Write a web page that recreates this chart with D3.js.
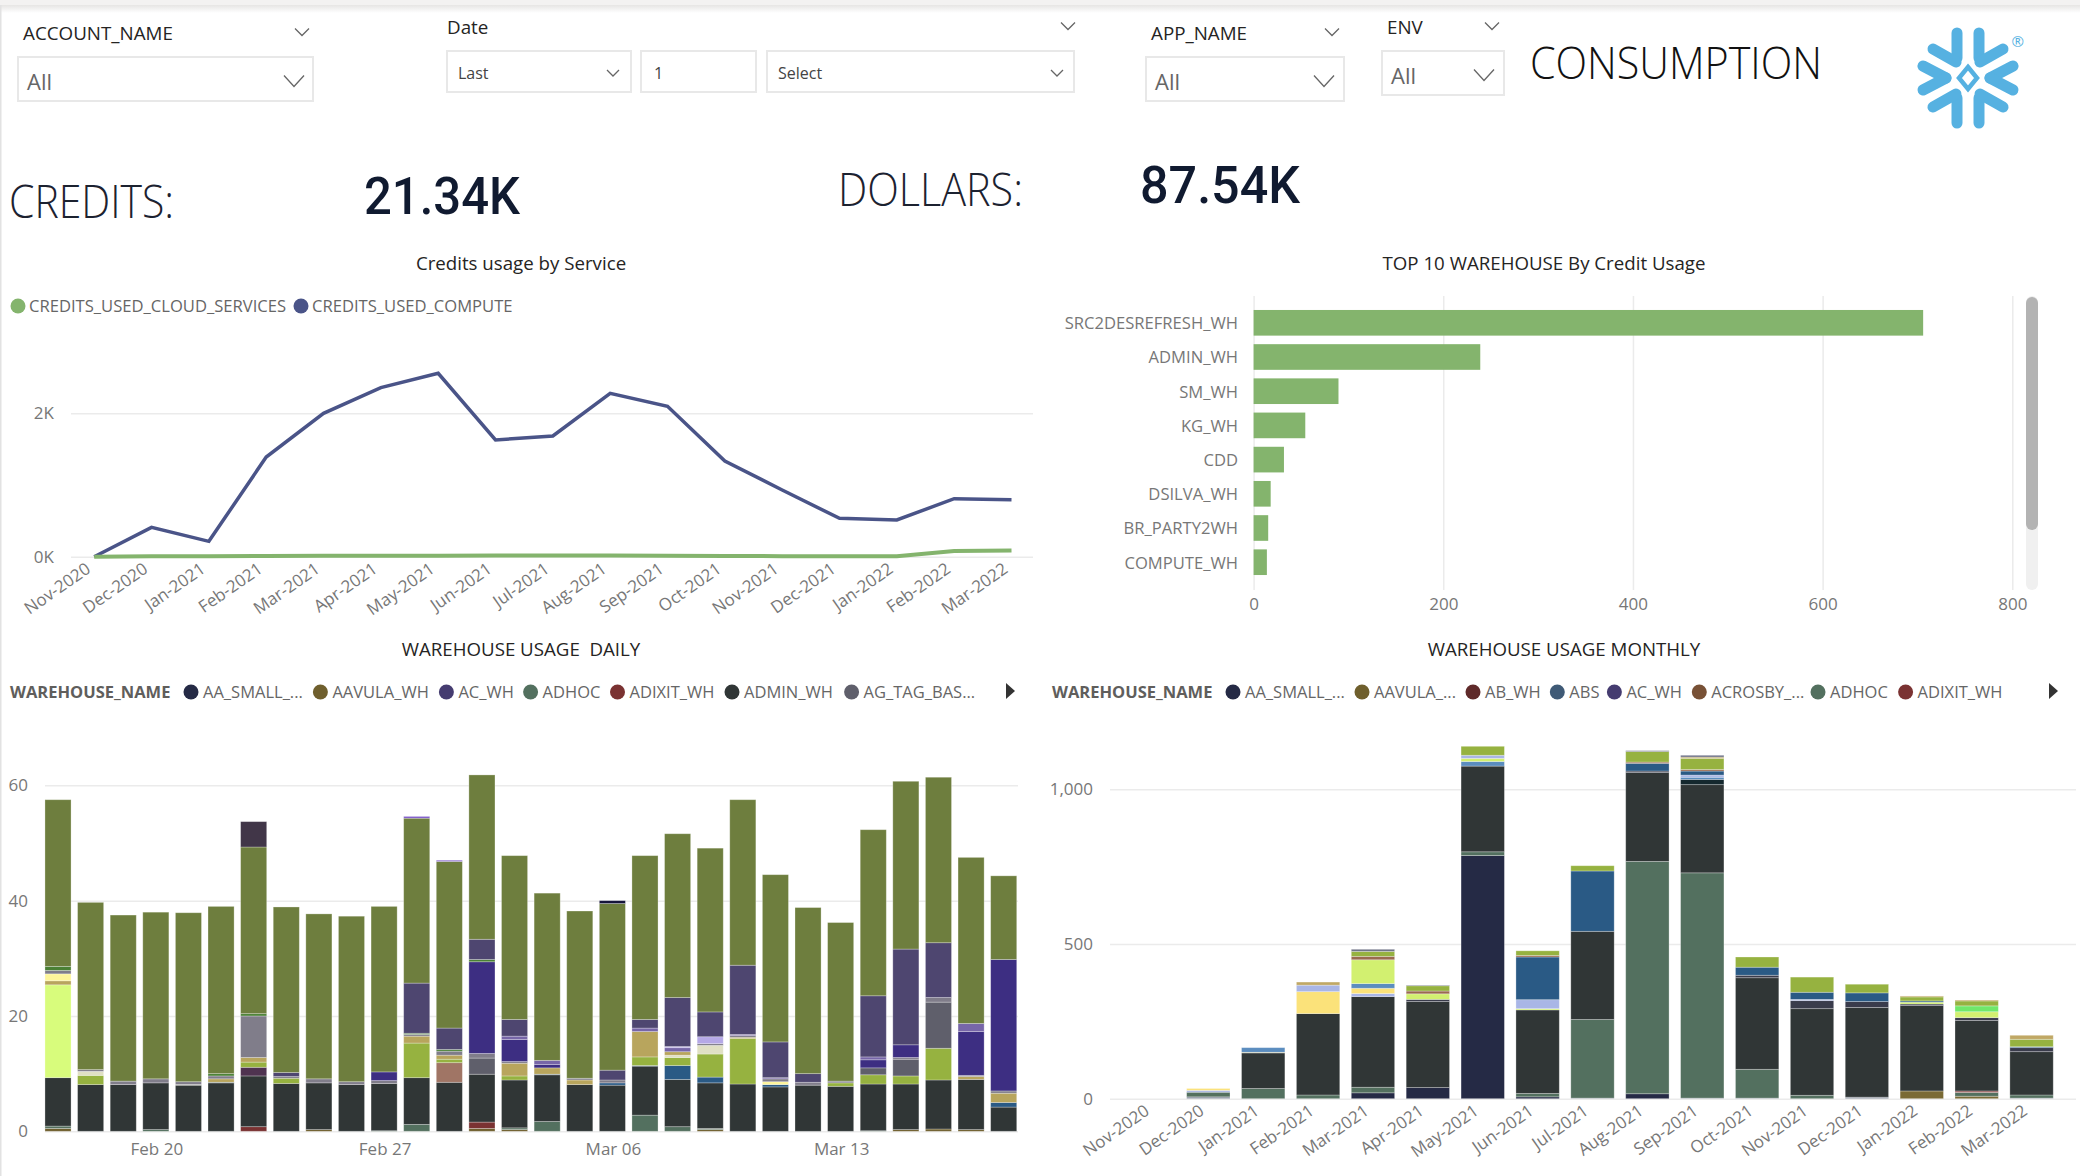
<!DOCTYPE html>
<html>
<head>
<meta charset="utf-8">
<title>Consumption</title>
<script src="https://cdn.jsdelivr.net/npm/d3@7"></script>
<style>
  body { margin: 0; background: #fff; font-family: "Open Sans", sans-serif; }
  svg { display: block; }
  .tick text { fill: #777; }
</style>
</head>
<body>
<svg id="page" width="2080" height="1176"></svg>
<script>
// monthly axis, shared by the line chart and the monthly stacked bars
var months = ["Nov-2020","Dec-2020","Jan-2021","Feb-2021","Mar-2021","Apr-2021","May-2021","Jun-2021",
  "Jul-2021","Aug-2021","Sep-2021","Oct-2021","Nov-2021","Dec-2021","Jan-2022","Feb-2022","Mar-2022"];

// credits usage by service
var creditsCompute = [0,409,214,1390,2000,2358,2558,1628,1684,2279,2098,1335,930,535,512,809,795];
var creditsCloud   = [0,6,8,10,12,12,12,16,16,16,14,10,8,8,8,78,88];

// top warehouses
var topNames  = ["SRC2DESREFRESH_WH","ADMIN_WH","SM_WH","KG_WH","CDD","DSILVA_WH","BR_PARTY2WH","COMPUTE_WH"];
var topValues = [706,239,89.5,54.5,32,18,15.4,14];
var topTicks  = [0,200,400,600,800];

// daily usage, Feb 17 to Mar 18
var days = ["02-17","02-18","02-19","02-20","02-21","02-22","02-23","02-24","02-25","02-26",
  "02-27","02-28","03-01","03-02","03-03","03-04","03-05","03-06","03-07","03-08",
  "03-09","03-10","03-11","03-12","03-13","03-14","03-15","03-16","03-17","03-18"];
var dayTicks = ["02-20","02-27","03-06","03-13"];
var dayTickLabels = ["Feb 20","Feb 27","Mar 06","Mar 13"];

var dBrown  = [.5,0,0,0,0,0,0,0,.3,0,0,0,0,.5,.3,0,0,0,0,0,.3,0,0,0,0,0,.3,.4,.3,0];
var dAdhoc  = [.4,0,0,.3,0,0,0,0,0,0,.1,1.2,0,0,.3,1.7,0,0,2.8,.8,.2,0,0,0,0,.1,0,0,0,0];
var dAdixit = [0,0,0,0,0,0,.8,0,0,0,0,0,0,1.1,0,0,0,0,0,0,0,0,0,0,0,0,0,0,0,0];
var dAdmin  = [8.4,8.1,8.1,8.1,8,8.4,8.8,8.3,8.1,8.1,8.2,8.1,8.5,8.3,8.3,8.1,8.1,8,8.5,8.2,7.9,8.2,7.7,8,7.8,8.1,7.9,8.5,8.7,4.2];
var dMaroon = [0,0,0,0,0,0,1.5,0,0,0,0,0,0,0,0,0,0,0,0,0,0,0,0,0,0,0,0,0,0,0];
var dSalmon = [0,0,0,0,0,0,0,0,0,0,0,0,3.4,0,0,0,0,0,0,0,0,0,0,0,0,0,0,0,0,0];
var dBlue   = [0,0,0,0,0,.1,0,0,0,0,0,0,0,0,0,.1,0,.4,.1,2.4,1,0,.4,0,0,0,0,0,0,.8];
var dLime   = [0,1.6,0,0,0,0,.9,.9,0,0,0,6,.6,0,.7,0,0,0,1.5,1.4,4,7.9,0,0,.6,1.6,1.4,5.5,0,0];
var dPale   = [16.1,0,0,0,0,0,0,0,0,0,0,0,0,0,0,0,0,0,0,0,0,0,0,0,0,0,0,0,0,0];
var dCream  = [0,.7,0,0,.1,0,0,0,0,0,0,0,0,0,0,0,0,0,0,.4,1.5,0,0,0,0,0,0,0,0,0];
var dTan    = [.7,0,0,0,0,.6,.8,0,0,0,0,1.2,.7,0,2.2,1.1,.8,0,4.4,.6,0,.2,0,0,0,0,0,0,.5,1.6];
var dYellow = [1.2,0,0,0,0,0,0,0,0,0,0,0,0,0,0,0,0,0,0,0,0,0,.5,0,0,0,0,0,0,0];
var dSlate  = [0,0,0,0,0,0,0,0,0,0,0,0,0,2.8,0,0,0,0,0,0,0,0,0,0,0,1.2,2.9,8,0,0];
var dGray   = [.6,.3,.6,.7,.5,.5,7.2,.3,.7,.5,.5,.3,.7,.8,.3,0,.3,.5,0,0,.3,.3,.5,.5,.3,0,.3,.8,.2,.4];
var dIndigo = [0,0,0,0,0,0,0,0,0,0,1.5,0,0,15.9,3.8,.6,0,0,0,0,0,0,0,0,0,1.4,2.2,0,7.6,22.8];
var dViolet = [0,0,0,0,0,0,0,0,0,0,0,0,0,0,.6,.7,0,0,.6,.7,0,.2,.2,0,0,.5,0,0,1.4,0];
var dLav    = [0,0,0,0,0,0,0,0,0,0,0,0,0,0,0,0,0,0,0,.2,1.2,0,0,0,0,0,0,0,0,0];
var dGreen  = [.7,0,0,0,0,.4,.4,0,0,0,0,.2,.3,.4,0,0,0,0,0,0,0,0,0,0,0,0,0,0,0,0];
var dGrape  = [0,0,0,0,0,0,0,.7,0,0,0,8.7,3.7,3.5,2.9,0,0,1.7,1.5,8.5,4.3,12,6.2,1.5,0,10.6,16.6,9.5,0,0];
var dOlive  = [28.9,29,28.8,28.9,29.3,29,28.9,28.7,28.6,28.7,28.7,28.6,28.9,28.5,28.4,29,29,28.9,28.4,28.4,28.4,28.7,29,28.8,27.5,28.8,29.1,28.7,28.8,14.5];
var dPlum   = [0,0,0,0,0,0,4.4,0,0,0,0,0,0,0,0,0,0,0,0,0,0,0,0,0,0,0,0,0,0,0];
var dPurple = [0,0,0,0,0,0,0,0,0,0,0,.3,.2,0,0,0,0,0,0,0,0,0,0,0,0,0,0,0,0,0];
var dNavy   = [0,0,0,0,0,0,0,0,0,0,0,0,0,0,0,0,0,.5,0,0,0,0,0,0,0,0,0,0,0,0];
var dailyTicks = [0,20,40,60];

// monthly usage
var mNavy   = [0,0,0,0,19,36,786,6,0,16,0,0,0,0,0,0,0];
var mBrown  = [0,0,0,0,0,0,0,0,0,0,0,0,0,0,25,8,0];
var mGray   = [0,6,0,0,0,0,0,0,2,0,2,2,0,5,0,0,2];
var mAdhoc  = [0,15,33,12,18,0,12,11,254,751,728,93,11,0,0,12,10];
var mAdixit = [0,0,0,0,0,0,0,0,0,0,0,0,0,0,0,5,0];
var mAdmin  = [0,0,115,263,293,278,277,270,285,287,285,296,280,290,276,228,140];
var mSlate  = [0,0,0,0,0,7,0,0,0,5,0,8,26,19,5,9,13];
var mTeal   = [0,0,0,0,0,0,0,0,0,0,17,0,0,0,0,0,0];
var mPeri2  = [0,6,0,0,10,0,0,0,0,0,0,0,0,0,0,0,0];
var mYellow = [0,6,2,71,17,0,0,0,0,0,0,0,0,0,0,0,0];
var mBlue2  = [0,0,15,0,15,0,15,0,0,0,7,0,0,0,0,0,0];
var mPale   = [0,0,0,0,77,18,10,4,0,0,0,0,0,0,6,19,0];
var mMint   = [0,0,0,0,0,0,0,0,0,0,0,0,0,0,0,19,0];
var mPeri   = [0,0,0,21,0,0,10,29,0,0,7,0,4,0,0,0,0];
var mBlue   = [0,0,0,0,0,0,0,138,195,25,13,26,23,28,4,0,3];
var mBrick  = [0,0,0,0,11,9,0,5,0,4,5,0,0,0,0,0,0];
var mLime   = [0,0,0,0,16,17,29,15,17,34,36,33,49,28,13,16,24];
var mTan    = [0,0,0,10,0,0,0,0,0,0,4,0,0,0,3,3,13];
var mTop    = [0,0,0,0,7,2,0,0,0,3,6,0,0,0,0,0,0];
var monthlyTicks = [0,500,1000];

var dailySeries = [
  {key:"AAVULA_WH", values:dBrown, color:"#6f5f2d"}, {key:"ADHOC", values:dAdhoc, color:"#53705f"},
  {key:"ADIXIT_WH", values:dAdixit, color:"#7a3232"}, {key:"ADMIN_WH", values:dAdmin, color:"#303636"},
  {key:"MAROON", values:dMaroon, color:"#4f3350"}, {key:"SALMON", values:dSalmon, color:"#a07565"},
  {key:"BLUE", values:dBlue, color:"#2a5a85"}, {key:"LIME", values:dLime, color:"#96b240"},
  {key:"PALE", values:dPale, color:"#d8fc7c"}, {key:"CREAM", values:dCream, color:"#e0e0c4"},
  {key:"TAN", values:dTan, color:"#b8a55d"}, {key:"YELLOW", values:dYellow, color:"#fdf59a"},
  {key:"AG_TAG_BAS", values:dSlate, color:"#5f5f6b"}, {key:"GRAY", values:dGray, color:"#807d8a"},
  {key:"INDIGO", values:dIndigo, color:"#3d2e82"}, {key:"VIOLET", values:dViolet, color:"#7766a8"},
  {key:"LAVENDER", values:dLav, color:"#b5a8e6"}, {key:"GREEN", values:dGreen, color:"#4a8035"},
  {key:"AC_WH", values:dGrape, color:"#4e4670"}, {key:"OLIVE", values:dOlive, color:"#6e7e3e"},
  {key:"PLUM", values:dPlum, color:"#413648"}, {key:"PURPLE", values:dPurple, color:"#7a55c8"},
  {key:"AA_SMALL", values:dNavy, color:"#15143a"}
];
var monthlySeries = [
  {key:"AA_SMALL", values:mNavy, color:"#252a45"}, {key:"AAVULA", values:mBrown, color:"#7a6a35"},
  {key:"GRAY", values:mGray, color:"#8b93a0"}, {key:"ADHOC", values:mAdhoc, color:"#53705f"},
  {key:"ADIXIT_WH", values:mAdixit, color:"#8a4a4a"}, {key:"ADMIN", values:mAdmin, color:"#303636"},
  {key:"SLATE", values:mSlate, color:"#3a3c4c"}, {key:"TEAL", values:mTeal, color:"#14282e"},
  {key:"PERI2", values:mPeri2, color:"#a9b6e6"}, {key:"YELLOW", values:mYellow, color:"#fbe27a"},
  {key:"BLUE2", values:mBlue2, color:"#5b8dbf"}, {key:"PALE", values:mPale, color:"#d2f070"},
  {key:"MINT", values:mMint, color:"#70e86a"}, {key:"PERI", values:mPeri, color:"#a9b6e6"},
  {key:"BLUE", values:mBlue, color:"#2a5a85"}, {key:"BRICK", values:mBrick, color:"#9a6a50"},
  {key:"LIME", values:mLime, color:"#96b240"}, {key:"TAN", values:mTan, color:"#c0a865"},
  {key:"TOP", values:mTop, color:"#707488"}
];

var legendService = ["CREDITS_USED_CLOUD_SERVICES","CREDITS_USED_COMPUTE"];
var legendDaily   = ["AA_SMALL_...","AAVULA_WH","AC_WH","ADHOC","ADIXIT_WH","ADMIN_WH","AG_TAG_BAS..."];
var colorsDaily   = ["#252a45","#6f5f2d","#453c70","#53705f","#7a3232","#303636","#5f5f6b"];
var legendMonthly = ["AA_SMALL_...","AAVULA_...","AB_WH","ABS","AC_WH","ACROSBY_...","ADHOC","ADIXIT_WH"];
var colorsMonthly = ["#252a45","#6f5f2d","#5f2a2a","#3f5a76","#453c70","#785136","#53705f","#7a3232"];

var GREEN = "#84b46d", BLUE = "#4a5488", GRID = "#ebebeb";
var svg = d3.select("#page");

function txt(x, y, s, size, fill, opts) {
  opts = opts || {};
  var t = svg.append("text").attr("x", x).attr("y", y).text(s)
    .attr("font-size", size).attr("fill", fill)
    .attr("dominant-baseline", "central")
    .attr("text-anchor", opts.anchor || "start")
    .attr("font-weight", opts.weight || 400)
    .attr("font-family", opts.font || "'Open Sans', sans-serif");
  // the headline text is narrower than anything installed
  if (opts.fit) t.attr("textLength", opts.fit).attr("lengthAdjust", "spacingAndGlyphs");
  return t;
}

function chevron(x, y, w, h) {
  svg.append("path").attr("d", d3.line()([[x - w / 2, y - h / 2], [x, y + h / 2], [x + w / 2, y - h / 2]]))
    .attr("fill", "none").attr("stroke", "#666").attr("stroke-width", 1.3);
}

function box(x0, y0, x1, y1) {
  svg.append("rect").attr("x", x0).attr("y", y0).attr("width", x1 - x0).attr("height", y1 - y0)
    .attr("fill", "#fff").attr("stroke", "#e8e8e8").attr("stroke-width", 2);
}

// page chrome
var defs = svg.append("defs");
var shadow = defs.append("linearGradient").attr("id", "shadow").attr("x1", 0).attr("x2", 0).attr("y1", 0).attr("y2", 1);
shadow.append("stop").attr("offset", "0%").attr("stop-color", "#e6e5e3");
shadow.append("stop").attr("offset", "100%").attr("stop-color", "#fff");
svg.append("rect").attr("width", 2080).attr("height", 5).attr("fill", "#f3f2f1");
svg.append("rect").attr("y", 5).attr("width", 2080).attr("height", 8).attr("fill", "url(#shadow)");
svg.append("rect").attr("y", 5).attr("width", 1.5).attr("height", 1171).attr("fill", "#e2e2e2");

// slicers
txt(23, 33, "ACCOUNT_NAME", 18.8, "#252423");
chevron(302, 32, 14, 7);
box(18, 57, 313, 101);
txt(27, 81, "All", 22, "#666");
chevron(294, 81, 20, 11);

txt(447, 27, "Date", 18.8, "#252423");
chevron(1068, 26, 14, 7);
box(447, 51, 631, 92);
box(641, 51, 756, 92);
box(767, 51, 1074, 92);
txt(458, 73, "Last", 16, "#444");
chevron(613, 73, 12, 6);
txt(654, 73, "1", 16, "#444");
txt(778, 73, "Select", 16, "#444");
chevron(1057, 73, 12, 6);

txt(1151, 33, "APP_NAME", 18.8, "#252423");
chevron(1332, 32, 14, 7);
box(1146, 57, 1344, 101);
txt(1155, 81, "All", 22, "#666");
chevron(1324, 81, 20, 11);

txt(1387, 27, "ENV", 18.8, "#252423");
chevron(1492, 26, 14, 7);
box(1382, 51, 1504, 95);
txt(1391, 75, "All", 22, "#666");
chevron(1484, 75, 20, 11);

// headline numbers
txt(1530, 62, "CONSUMPTION", 44, "#111", {weight: 300, fit: 292});
txt(9, 200, "CREDITS:", 46, "#1c2230", {weight: 300, fit: 165});
txt(364, 196, "21.34K", 51, "#101a30", {font: "Roboto", weight: 500, fit: 156});
txt(838, 188, "DOLLARS:", 46, "#1c2230", {weight: 300, fit: 185});
txt(1140, 185, "87.54K", 51, "#101a30", {font: "Roboto", weight: 500, fit: 160});

// snowflake logo, one quarter mirrored around the centre
var logo = svg.append("g").attr("transform", "translate(1968,78)")
  .attr("stroke", "#56b1e1").attr("fill", "none").attr("stroke-linecap", "round").attr("stroke-width", 11);
[[1, 1], [-1, 1], [1, -1], [-1, -1]].forEach(function(m) {
  var g = logo.append("g").attr("transform", "scale(" + m[0] + "," + m[1] + ")");
  g.append("path").attr("d", "M11,-45V-20");
  g.append("path").attr("d", "M35,-29L12,-16").attr("stroke-linejoin", "round");
  g.append("path").attr("d", "M45,-12L22,0");
});
logo.append("path").attr("d", "M0,-11L9,0L0,11L-9,0Z").attr("stroke-width", 4.5).attr("stroke-linecap", "butt");
txt(2017.7, 41, "®", 15, "#56b1e1", {anchor: "middle"});

// ---- credits line chart
txt(521, 262, "Credits usage by Service", 18.7, "#252423", {anchor: "middle"});
svg.append("circle").attr("cx", 18).attr("cy", 306).attr("r", 7.5).attr("fill", GREEN);
txt(29, 305, legendService[0], 16.6, "#666");
svg.append("circle").attr("cx", 301).attr("cy", 306).attr("r", 7.5).attr("fill", BLUE);
txt(312, 305, legendService[1], 16.6, "#666");

var lx = d3.scalePoint().domain(months).range([94.2, 1011.5]);
var ly = d3.scaleLinear().domain([0, 2000]).range([556.7, 413.3]);
var lineGrid = d3.axisLeft(ly).tickValues([0, 2000]).tickSize(-962).tickFormat(function(d) { return d / 1000 + "K"; });
svg.append("g").attr("transform", "translate(71,0)").call(lineGrid).call(styleAxis, 17)
  .selectAll("text").attr("x", -17);
svg.append("g").attr("transform", "translate(-9,557)").call(d3.axisBottom(lx).tickSize(0)).call(slantLabels, 17);

var lineOf = d3.line().x(function(d, i) { return lx(months[i]); }).y(function(d) { return ly(d); });
svg.append("path").datum(creditsCompute).attr("d", lineOf).attr("fill", "none").attr("stroke", BLUE).attr("stroke-width", 3.5);
svg.append("path").datum(creditsCloud).attr("d", lineOf).attr("fill", "none").attr("stroke", GREEN).attr("stroke-width", 4);

// ---- top warehouses
txt(1544, 262, "TOP 10 WAREHOUSE By Credit Usage", 18.7, "#252423", {anchor: "middle"});
var tx = d3.scaleLinear().domain([0, 800]).range([1253.6, 2012.3]);
var ty = d3.scaleBand().domain(topNames).range([305.7, 579.3]).paddingInner(0.25).paddingOuter(0.125);
svg.append("g").attr("transform", "translate(0,590)").call(d3.axisBottom(tx).tickValues(topTicks).tickSize(-294).tickPadding(8))
  .call(styleAxis, 17);
svg.append("g").attr("transform", "translate(1238,1)").call(d3.axisLeft(ty).tickSize(0).tickPadding(0))
  .call(styleAxis, 16.6);
svg.append("g").selectAll("rect").data(topValues).join("rect")
  .attr("x", tx(0)).attr("y", function(d, i) { return ty(topNames[i]); })
  .attr("width", function(d) { return tx(d) - tx(0); }).attr("height", ty.bandwidth())
  .attr("fill", GREEN);
// scrollbar
svg.append("rect").attr("x", 2026).attr("y", 296).attr("width", 12).attr("height", 294).attr("rx", 6).attr("fill", "#f0f0f0");
svg.append("rect").attr("x", 2026).attr("y", 297).attr("width", 12).attr("height", 233).attr("rx", 6).attr("fill", "#b3b3b3");

// ---- daily stacked bars
txt(521, 648, "WAREHOUSE USAGE  DAILY", 18.7, "#252423", {anchor: "middle"}).attr("xml:space", "preserve");
drawLegend(691, 10, legendDaily, colorsDaily, [191,320.4,446.4,530.6,617.5,732,851.6], 1010);

var dx = d3.scaleBand().domain(days).range([41.7, 1020]).paddingInner(0.2).paddingOuter(0.1);
var dy = d3.scaleLinear().domain([0, 60]).range([1131.3, 785.3]);
svg.append("g").attr("transform", "translate(45,0)").call(d3.axisLeft(dy).tickValues(dailyTicks).tickSize(-973).tickPadding(17))
  .call(styleAxis, 17);
svg.append("g").attr("transform", "translate(1,1132)")
  .call(d3.axisBottom(dx).tickValues(dayTicks).tickSize(0).tickPadding(11)
    .tickFormat(function(d, i) { return dayTickLabels[i]; }))
  .call(styleAxis, 17);
drawStack(dailySeries, days, dx, dy);

// ---- monthly stacked bars
txt(1564, 648, "WAREHOUSE USAGE MONTHLY", 18.7, "#252423", {anchor: "middle"});
drawLegend(691, 1052, legendMonthly, colorsMonthly, [1233,1362,1473,1557.3,1614.4,1699.3,1818,1905.6], 2053);

var mx = d3.scaleBand().domain(months).range([1126, 2059]).paddingInner(0.21).paddingOuter(0.105);
var my = d3.scaleLinear().domain([0, 1000]).range([1098.7, 789.3]);
svg.append("g").attr("transform", "translate(1110,0)")
  .call(d3.axisLeft(my).tickValues(monthlyTicks).tickSize(-966).tickPadding(17).tickFormat(d3.format(",")))
  .call(styleAxis, 17);
svg.append("g").attr("transform", "translate(-9,1099)").call(d3.axisBottom(mx).tickSize(0)).call(slantLabels, 17);
drawStack(monthlySeries, months, mx, my);

function drawStack(series, cats, x, y) {
  var rows = cats.map(function(c, i) {
    var row = {cat: c};
    series.forEach(function(s) { row[s.key] = s.values[i]; });
    return row;
  });
  var layers = d3.stack().keys(series.map(function(s) { return s.key; }))(rows);
  svg.append("g").selectAll("g").data(layers).join("g")
    .attr("fill", function(d, i) { return series[i].color; })
    .selectAll("rect").data(function(d) { return d.filter(function(p) { return p[1] > p[0]; }); }).join("rect")
    .attr("x", function(d) { return x(d.data.cat); })
    .attr("y", function(d) { return y(d[1]); })
    .attr("width", x.bandwidth())
    .attr("height", function(d) { return y(d[0]) - y(d[1]); })
    .attr("stroke", "#fff").attr("stroke-opacity", 0.35).attr("stroke-width", 0.8);
}

function drawLegend(y, x0, names, colors, xs, arrowX) {
  txt(x0, y, "WAREHOUSE_NAME", 16.5, "#605e5c", {weight: 700});
  names.forEach(function(n, i) {
    svg.append("circle").attr("cx", xs[i]).attr("cy", y + 1).attr("r", 7.5).attr("fill", colors[i]);
    txt(xs[i] + 12, y, n, 16.5, "#666");
  });
  svg.append("path").attr("d", d3.line()([[arrowX - 4, y - 8], [arrowX + 5, y], [arrowX - 4, y + 8]])).attr("fill", "#333");
}

function styleAxis(g, size) {
  g.select(".domain").remove();
  g.selectAll(".tick line").attr("stroke", GRID).attr("stroke-width", 1.5);
  g.selectAll("text").attr("font-size", size).attr("font-family", "'Open Sans', sans-serif");
}

function slantLabels(g, size) {
  g.select(".domain").remove();
  g.selectAll("text").attr("font-size", size).attr("font-family", "'Open Sans', sans-serif")
    .attr("text-anchor", "end").attr("transform", "rotate(-35)").attr("dx", "-0.2em").attr("dy", "0.9em").attr("y", 0);
}
</script>
</body>
</html>
